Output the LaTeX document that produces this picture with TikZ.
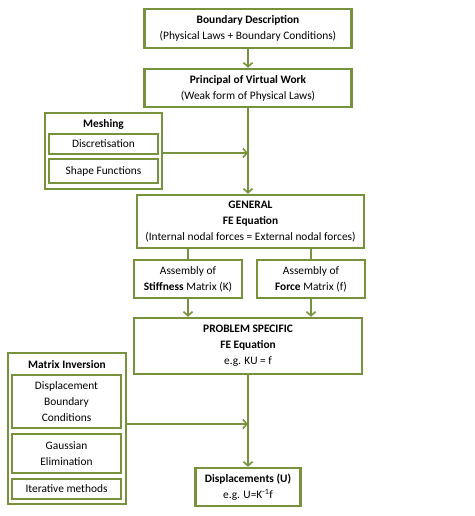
\documentclass[tikz,border=0pt]{standalone}
\usepackage{fontspec}
\setmainfont{Carlito}
\usetikzlibrary{arrows.meta}
\definecolor{olivegreen}{RGB}{118,146,60}
\tikzset{box/.style = {draw=olivegreen, line width=2.5pt, rectangle, inner sep=0pt, align=center,
                       font=\fontsize{11.4}{16}\selectfont},
         subbox/.style = {box, line width=1.6pt},
         flow/.style = {draw=olivegreen, line width=2pt, -{Straight Barb[length=4pt,width=9pt,line width=1.6pt]}},
         link/.style = {draw=olivegreen, line width=2pt}}

\begin{document}
\begin{tikzpicture}[x=1pt, y=-1pt]
\useasboundingbox (0,0) rectangle (474,516);
% main column
\node[box, minimum width=207pt, minimum height=39pt] (bound) at (248,28.5)
  {\textbf{Boundary Description}\\(Physical Laws + Boundary Conditions)};
\node[box, minimum width=207pt, minimum height=38pt] (pvw) at (248,88)
  {\textbf{Principal of Virtual Work}\\(Weak form of Physical Laws)};
\node[box, minimum width=227pt, minimum height=53pt] (general) at (250.5,221.5)
  {\textbf{GENERAL}\\\textbf{FE Equation}\\(Internal nodal forces = External nodal forces)};
\node[box, minimum width=108pt, minimum height=38pt] (stiff) at (188,279)
  {Assembly of\\\textbf{Stiffness} Matrix (K)};
\node[box, minimum width=108pt, minimum height=38pt] (force) at (311,279)
  {Assembly of\\\textbf{Force} Matrix (f)};
\node[box, minimum width=228pt, minimum height=56pt] (specific) at (248,346)
  {\textbf{PROBLEM SPECIFIC}\\\textbf{FE Equation}\\e.g. KU = f};
\node[box, minimum width=105pt, minimum height=38pt] (displ) at (248,487)
  {\textbf{Displacements (U)}\\e.g. U=K\textsuperscript{-1}f};
% meshing
\node[box, minimum width=117pt, minimum height=76pt] (mesh) at (103.5,151) {};
\node[font=\fontsize{11.4}{12}\selectfont\bfseries] (meshtitle) at (103.5,124.5) {Meshing};
\node[subbox, minimum width=109pt, minimum height=20pt] (discr) at (103.5,144) {Discretisation};
\node[subbox, minimum width=109pt, minimum height=24pt] (shape) at (103.5,171) {Shape Functions};
% matrix inversion
\node[box, minimum width=118pt, minimum height=151pt] (inv) at (67,428.5) {};
\node[font=\fontsize{11.4}{12}\selectfont\bfseries] (invtitle) at (67,365) {Matrix Inversion};
\node[subbox, minimum width=109pt, minimum height=53pt] (dbc) at (66.5,401.5)
  {Displacement\\Boundary\\Conditions};
\node[subbox, minimum width=109pt, minimum height=39pt] (gauss) at (66.5,453.5)
  {Gaussian\\Elimination};
\node[subbox, minimum width=109pt, minimum height=20pt] (iter) at (66.5,489) {Iterative methods};
% connectors
\draw[flow] (bound.south) -- (pvw.north);
\draw[flow] (pvw.south) -- (pvw.south |- general.north);
\draw[flow] ([yshift=-2pt]mesh.east) -- ([yshift=-2pt]mesh.east -| pvw.south);
\draw[link] (general.south -| stiff.north) -- (stiff.north);
\draw[link] (general.south -| force.north) -- (force.north);
\draw[flow] (stiff.south) -- (stiff.south |- specific.north);
\draw[flow] (force.south) -- (force.south |- specific.north);
\draw[flow] (specific.south) -- (displ.north);
\draw[flow] ([yshift=4.5pt]inv.east) -- ([yshift=4.5pt]inv.east -| specific.south);
\end{tikzpicture}
\end{document}
